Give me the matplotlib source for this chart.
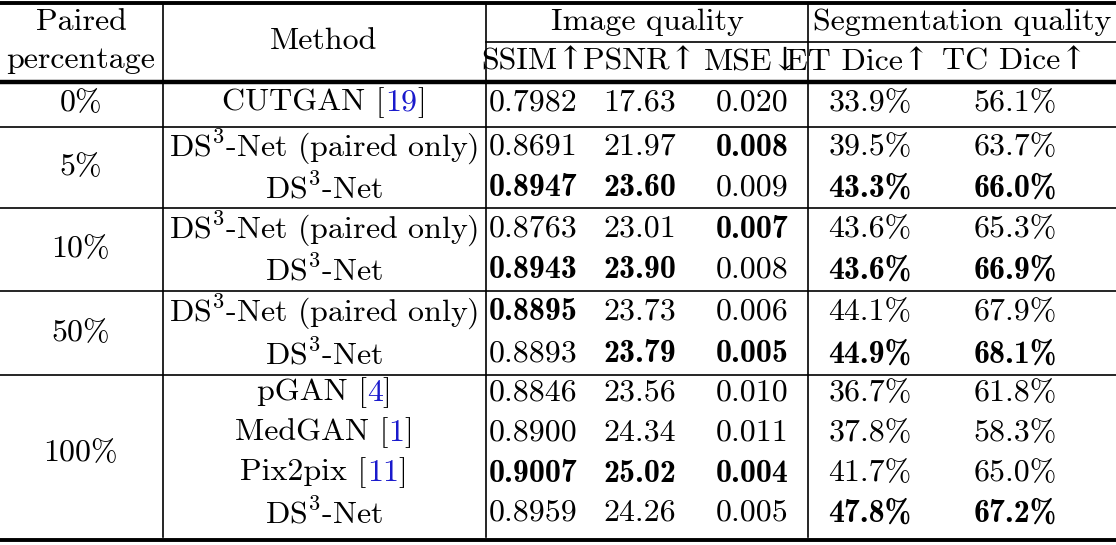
import matplotlib
matplotlib.use("Agg")
import matplotlib.pyplot as plt

plt.rcParams['font.family'] = ['cmr10', 'DejaVu Serif']
plt.rcParams['mathtext.fontset'] = 'cm'
plt.rcParams['axes.unicode_minus'] = False

# table data
percentages = ["0%", "5%", "10%", "50%", "100%"]
group_sizes = [1, 2, 2, 2, 4]
methods = [("CUTGAN ", "19"), ("DS$^3$-Net (paired only)", None), ("DS$^3$-Net", None),
           ("DS$^3$-Net (paired only)", None), ("DS$^3$-Net", None),
           ("DS$^3$-Net (paired only)", None), ("DS$^3$-Net", None),
           ("pGAN ", "4"), ("MedGAN ", "1"), ("Pix2pix ", "11"), ("DS$^3$-Net", None)]
ssim = ["0.7982", "0.8691", "*0.8947", "0.8763", "*0.8943", "*0.8895", "0.8893",
        "0.8846", "0.8900", "*0.9007", "0.8959"]
psnr = ["17.63", "21.97", "*23.60", "23.01", "*23.90", "23.73", "*23.79",
        "23.56", "24.34", "*25.02", "24.26"]
mse = ["0.020", "*0.008", "0.009", "*0.007", "0.008", "0.006", "*0.005",
       "0.010", "0.011", "*0.004", "0.005"]
et_dice = ["33.9%", "39.5%", "*43.3%", "43.6%", "*43.6%", "44.1%", "*44.9%",
           "36.7%", "37.8%", "41.7%", "*47.8%"]
tc_dice = ["56.1%", "63.7%", "*66.0%", "65.3%", "*66.9%", "67.9%", "*68.1%",
           "61.8%", "58.3%", "65.0%", "*67.2%"]
sub_headers = ["SSIM↑", "PSNR↑", "MSE↓", "ET Dice↑", "TC Dice↑"]

FS = 23
fig = plt.figure(figsize=(11.16, 5.45), dpi=100)
ax = fig.add_axes([0, 0, 1, 1])
ax.set_xlim(0, 1116)
ax.set_ylim(545, 0)
ax.axis('off')

row_y = [103, 147, 188, 229, 270, 312, 354, 393, 433, 473, 513]
group_lines = [127, 208, 291, 375]
col_x = [533, 640, 752, 870, 1015]


def cell(x, y, s, **kw):
    fam = ['cmr10', 'DejaVu Serif']
    if s.startswith("*"):
        s = s[1:]
        fam = ['cmb10', 'DejaVu Serif']
    ax.text(x, y, s, ha='center', va='center', fontsize=FS, family=fam, **kw)


# rules
ax.plot([0, 1116], [3, 3], color='black', lw=2.8)
ax.plot([0, 1116], [82, 82], color='black', lw=3.2)
ax.plot([0, 1116], [540, 540], color='black', lw=2.8)
for y in group_lines:
    ax.plot([0, 1116], [y, y], color='black', lw=1.2)
ax.plot([486, 1116], [42, 42], color='black', lw=1.2)
for x in [163, 486, 808]:
    ax.plot([x, x], [3, 537], color='black', lw=1.2)

# header
cell(81, 22, "Paired")
cell(81, 60, "percentage")
cell(324, 41, "Method")
cell(647, 22, "Image quality")
cell(962, 22, "Segmentation quality")
hx = [533, 640, 752, 858, 1015]
for x, s in zip(hx, sub_headers):
    cell(x, 62, s)

# percentage labels
start = 0
for p, n in zip(percentages, group_sizes):
    cell(81, (row_y[start] + row_y[start + n - 1]) / 2, p)
    start += n

# method names with blue citations
renderer = fig.canvas.get_renderer()
for (name, ref), y in zip(methods, row_y):
    if ref is None:
        cell(324, y, name)
        continue
    parts = [(name + "[", 'black'), (ref, '#1a1acc'), ("]", 'black')]
    texts = [ax.text(0, y, s, fontsize=FS, color=c, va='center', ha='left') for s, c in parts]
    widths = [t.get_window_extent(renderer).width for t in texts]
    x = 324 - sum(widths) / 2
    for t, w in zip(texts, widths):
        t.set_x(x)
        x += w

# values
for cols, x in zip([ssim, psnr, mse, et_dice, tc_dice], col_x):
    for s, y in zip(cols, row_y):
        cell(x, y, s)

fig.savefig("out.png", dpi=100)
